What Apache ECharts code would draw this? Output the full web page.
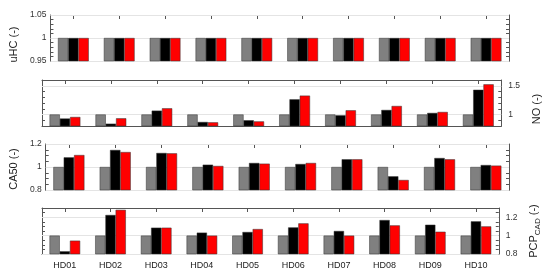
<!DOCTYPE html>
<html>
<head>
<meta charset="utf-8">
<script src="https://cdn.jsdelivr.net/npm/echarts@6/dist/echarts.min.js"></script>
<style>html,body{margin:0;padding:0;background:#fff}#c{width:550px;height:276px}</style>
</head>
<body>
<div id="c"></div>
<script>
const categories = ['HD01','HD02','HD03','HD04','HD05','HD06','HD07','HD08','HD09','HD10'];

const uhcGray  = [1,1,1,1,1,1,1,1,1,1];
const uhcBlack = [1,1,1,1,1,1,1,1,1,1];
const uhcRed   = [1,1,1,1,1,1,1,1,1,1];

const noGray  = [1,1,1,1,1,1,1,1,1,1];
const noBlack = [0.93,0.84,1.067,0.87,0.90,1.264,0.986,1.079,1.027,1.43];
const noRed   = [0.957,0.934,1.108,0.864,0.88,1.328,1.073,1.148,1.044,1.525];

const ca50Gray  = [1,1,1,1,1,1,1,1,1,1];
const ca50Black = [1.084,1.148,1.122,1.02,1.035,1.026,1.067,0.919,1.078,1.017];
const ca50Red   = [1.104,1.13,1.119,1.009,1.029,1.035,1.067,0.887,1.067,1.012];

const pcpGray  = [1,1,1,1,1,1,1,1,1,1];
const pcpBlack = [0.829,1.224,1.086,1.032,1.039,1.089,1.05,1.169,1.118,1.155];
const pcpRed   = [0.945,1.28,1.086,1.0,1.071,1.133,1.0,1.111,1.042,1.10];

const uhcTicks  = [0.95, 1, 1.05];
const noTicks   = [1, 1.5];
const ca50Ticks = [0.8, 1, 1.2];
const pcpTicks  = [0.8, 1, 1.2];

const panels = [
  {name:'uHC (-)', side:'left', min:0.95, max:1.05, step:0.01, ticks:uhcTicks, data:[uhcGray,uhcBlack,uhcRed], top:15, shift:13},
  {name:'NO (-)', side:'right', min:0.8, max:1.6, step:0.1, ticks:noTicks, data:[noGray,noBlack,noRed], top:80, shift:12},
  {name:'CA50 (-)', side:'left', min:0.8, max:1.2, step:0.05, ticks:ca50Ticks, data:[ca50Gray,ca50Black,ca50Red], top:144, shift:4},
  {name:'{a|PCP}{b|CAD}{a| (-)}', side:'right', min:0.8, max:1.3, step:0.05, ticks:pcpTicks, data:[pcpGray,pcpBlack,pcpRed], top:208, shift:0}
];

const font = 'Liberation Sans, Arial, sans-serif';
const lineCol = '#555';
const colors = ['#808080','#000000','#ff0000'];

const grid = [], xAxis = [], yAxis = [], series = [];
panels.forEach((p, i) => {
  grid.push({left:42, right:41, top:p.top, height:46});
  xAxis.push({
    type:'category', gridIndex:i, data:categories, position:'bottom',
    axisLine:{show:true, lineStyle:{color:lineCol, width:1}},
    axisTick:{show:false},
    axisLabel:{show:i===3, fontFamily:font, fontSize:9, color:'#222', margin:7}
  });
  xAxis.push({
    type:'category', gridIndex:i, data:categories, position:'top',
    axisLine:{show:true, lineStyle:{color:lineCol, width:1}},
    axisTick:{show:true, inside:true, alignWithLabel:true, length:4, lineStyle:{color:lineCol}},
    axisLabel:{show:false}
  });
  const fmt = v => { const r = Math.round(v*1000)/1000; return p.ticks.some(t => Math.abs(t-r) < 1e-6) ? String(r) : ''; };
  const mk = (side, withLabel) => ({
    type:'value', gridIndex:i, position:side, min:p.min, max:p.max, interval:p.step,
    axisLine:{show:true, lineStyle:{color:lineCol, width:1}},
    axisTick:{show:true, inside:true, length:3, lineStyle:{color:lineCol}},
    splitLine:{show:false},
    axisLabel:{show:withLabel, formatter:fmt, fontFamily:font, fontSize:8.5, color:'#333', margin: side==='left'?4:7},
    name: withLabel ? p.name : '',
    nameLocation:'middle', nameRotate:90, nameGap: side==='left'?25:17,
    nameTextStyle:{fontFamily:font, fontSize:11, color:'#222', padding:[0,p.shift,0,0],
      rich:{a:{fontFamily:font, fontSize:11, color:'#222'}, b:{fontFamily:font, fontSize:8, color:'#222', padding:[8,0,0,0]}}}
  });
  const other = p.side === 'left' ? 'right' : 'left';
  yAxis.push(mk(p.side, true));
  yAxis.push(mk(other, false));
  p.data.forEach((d, k) => {
    const s = {
      type:'bar', xAxisIndex:2*i, yAxisIndex:2*i, data:d, barGap:'0%', barCategoryGap:'33%',
      itemStyle:{color:colors[k], borderColor:'#333', borderWidth:0.5},
      silent:true, animation:false
    };
    if (k === 0) {
      s.markLine = {
        silent:true, symbol:['none','none'], z:1, animation:false,
        label:{show:false},
        lineStyle:{color:'#e4e4e4', type:'solid', width:1},
        data: p.ticks.map(t => ({yAxis:t}))
      };
    }
    series.push(s);
  });
});

const chart = echarts.init(document.getElementById('c'), null, {renderer:'canvas'});
chart.setOption({animation:false, grid, xAxis, yAxis, series});
</script>
</body>
</html>
